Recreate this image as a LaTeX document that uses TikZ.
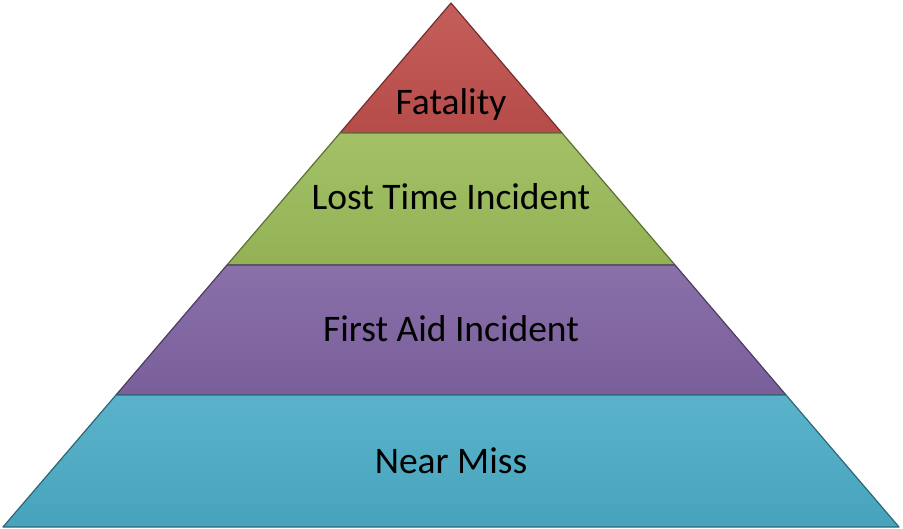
\documentclass[tikz,border=0pt]{standalone}
\usepackage{fontspec}
\setmainfont{Carlito}
\begin{document}
\begin{tikzpicture}[x=1pt,y=-1pt,
  band/.style={line width=1.2pt, line join=round},
  lbl/.style={font=\fontsize{37.5}{40}\selectfont, text=black}]
\useasboundingbox (0,0) rectangle (903,529);
\definecolor{cr}{HTML}{C0504D}\definecolor{cg}{HTML}{9BBB59}
\definecolor{cp}{HTML}{8064A2}\definecolor{cc}{HTML}{4BACC6}
\coordinate (A) at (451,3);
\coordinate (l1) at (340,133); \coordinate (r1) at (562,133);
\coordinate (l2) at (227,265); \coordinate (r2) at (675,265);
\coordinate (l3) at (116,395); \coordinate (r3) at (786,395);
\coordinate (l4) at (3,527); \coordinate (r4) at (899,527);
\shade[top color=cr!92!white, bottom color=cr!95!black] (A) -- (r1) -- (l1) -- cycle;
\draw[band, draw=cr!60!black] (A) -- (r1) -- (l1) -- cycle;
\shade[top color=cg!92!white, bottom color=cg!95!black] (l1) -- (r1) -- (r2) -- (l2) -- cycle;
\draw[band, draw=cg!60!black] (l1) -- (r1) -- (r2) -- (l2) -- cycle;
\shade[top color=cp!92!white, bottom color=cp!95!black] (l2) -- (r2) -- (r3) -- (l3) -- cycle;
\draw[band, draw=cp!60!black] (l2) -- (r2) -- (r3) -- (l3) -- cycle;
\shade[top color=cc!92!white, bottom color=cc!95!black] (l3) -- (r3) -- (r4) -- (l4) -- cycle;
\draw[band, draw=cc!60!black] (l3) -- (r3) -- (r4) -- (l4) -- cycle;
\node[lbl] (t1) at (451,105) {Fatality};
\node[lbl] (t2) at (451,197) {Lost Time Incident};
\node[lbl] (t3) at (451,329) {First Aid Incident};
\node[lbl] (t4) at (451,461) {Near Miss};
\end{tikzpicture}
\end{document}
